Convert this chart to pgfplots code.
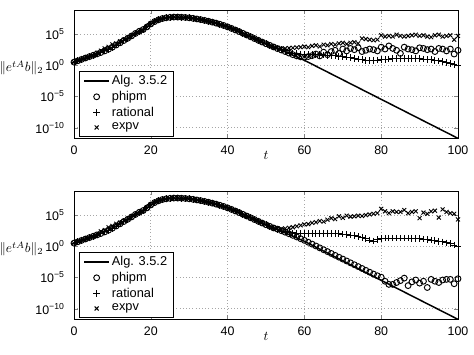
\documentclass[border=0pt]{standalone}
\usepackage{pgfplots}
\pgfplotsset{compat=1.18}
\usepackage{pgfplotstable}
\usepackage{fontspec}
\setmainfont{Liberation Sans}

% log10 of ||e^{tA}b||_2
\pgfplotstableread{
t alg p1 r1 e1 p2 r2 e2
0 0.50 0.50 0.50 0.50 0.50 0.50 0.50
1 0.72 0.72 0.72 0.72 0.72 0.72 0.72
2 0.95 0.95 0.95 0.95 0.95 0.95 0.95
3 1.17 1.17 1.17 1.17 1.17 1.17 1.17
4 1.38 1.38 1.38 1.38 1.38 1.38 1.38
5 1.60 1.60 1.60 1.60 1.60 1.60 1.60
6 1.82 1.82 1.82 2.00 1.82 1.82 1.95
7 2.05 2.05 2.05 2.35 2.05 2.05 2.40
8 2.30 2.30 2.30 2.70 2.30 2.30 2.60
9 2.58 2.58 2.58 2.95 2.58 2.58 3.05
10 2.90 2.90 2.90 3.35 2.90 2.90 3.25
11 3.25 3.25 3.25 3.50 3.25 3.25 3.60
12 3.60 3.60 3.60 3.85 3.60 3.60 3.80
13 3.97 3.97 3.97 4.10 3.97 3.97 4.05
14 4.33 4.33 4.33 4.33 4.33 4.33 4.33
15 4.70 4.70 4.70 4.70 4.70 4.70 4.70
16 5.10 5.10 5.10 5.10 5.10 5.10 5.10
17 5.45 5.45 5.45 5.45 5.45 5.45 5.45
18 5.72 5.72 5.72 5.72 5.72 5.72 5.72
19 6.15 6.15 6.15 6.15 6.15 6.15 6.15
20 6.62 6.62 6.62 6.62 6.62 6.62 6.62
21 7.00 7.00 7.00 7.00 7.00 7.00 7.00
22 7.28 7.28 7.28 7.28 7.28 7.28 7.28
23 7.48 7.48 7.48 7.48 7.48 7.48 7.48
24 7.60 7.60 7.60 7.60 7.60 7.60 7.60
25 7.68 7.68 7.68 7.68 7.68 7.68 7.68
26 7.72 7.72 7.72 7.72 7.72 7.72 7.72
27 7.72 7.72 7.72 7.72 7.72 7.72 7.72
28 7.70 7.70 7.70 7.70 7.70 7.70 7.70
29 7.66 7.66 7.66 7.66 7.66 7.66 7.66
30 7.60 7.60 7.60 7.60 7.60 7.60 7.60
31 7.52 7.52 7.52 7.52 7.52 7.52 7.52
32 7.42 7.42 7.42 7.42 7.42 7.42 7.42
33 7.31 7.31 7.31 7.31 7.31 7.31 7.31
34 7.19 7.19 7.19 7.19 7.19 7.19 7.19
35 7.06 7.06 7.06 7.06 7.06 7.06 7.06
36 6.91 6.91 6.91 6.91 6.91 6.91 6.91
37 6.75 6.75 6.75 6.75 6.75 6.75 6.75
38 6.57 6.57 6.57 6.57 6.57 6.57 6.57
39 6.37 6.37 6.37 6.37 6.37 6.37 6.37
40 6.15 6.15 6.15 6.15 6.15 6.15 6.15
41 5.91 5.91 5.91 5.91 5.91 5.91 5.91
42 5.66 5.66 5.66 5.66 5.66 5.66 5.66
43 5.40 5.40 5.40 5.40 5.40 5.40 5.40
44 5.12 5.12 5.12 5.12 5.12 5.12 5.12
45 4.84 4.84 4.84 4.84 4.84 4.84 4.84
46 4.56 4.56 4.56 4.56 4.56 4.56 4.56
47 4.28 4.28 4.28 4.28 4.28 4.28 4.28
48 4.00 4.00 4.00 4.00 4.00 4.00 4.00
49 3.72 3.72 3.72 3.72 3.72 3.72 3.72
50 3.45 3.45 3.45 3.45 3.45 3.45 3.45
51 3.19 3.19 3.19 3.19 3.19 3.19 3.19
52 2.93 2.93 2.93 2.93 2.93 2.93 2.93
53 2.67 2.67 2.70 2.80 2.75 2.65 2.85
54 2.41 2.45 2.50 2.70 2.50 2.45 2.80
55 2.15 2.20 2.30 2.70 2.25 2.30 2.85
56 1.88 1.95 2.10 2.75 2.00 2.20 2.95
57 1.61 1.70 1.95 2.80 1.75 2.15 3.05
58 1.34 1.50 1.85 2.85 1.50 2.10 3.20
59 1.07 1.35 1.80 2.90 1.22 2.10 3.35
60 0.80 1.30 1.75 3.00 0.95 2.10 3.50
61 0.49 1.40 1.75 2.90 0.65 2.10 3.55
62 0.18 1.55 1.75 3.10 0.35 2.10 3.75
63 -0.14 1.80 1.70 3.20 0.05 2.10 3.85
64 -0.45 1.50 1.70 3.00 -0.25 2.10 4.05
65 -0.76 2.10 1.65 3.30 -0.55 2.10 3.95
66 -1.08 1.70 1.60 3.20 -0.85 2.10 4.25
67 -1.39 2.20 1.55 3.40 -1.15 2.10 4.50
68 -1.70 2.40 1.50 3.30 -1.45 2.05 4.35
69 -2.01 1.90 1.45 3.50 -1.75 2.00 4.80
70 -2.33 2.60 1.40 3.60 -2.05 1.95 4.55
71 -2.64 2.30 1.30 3.40 -2.35 1.90 4.90
72 -2.95 2.70 1.20 3.60 -2.65 1.80 4.75
73 -3.26 2.50 1.10 3.70 -2.95 1.70 4.80
74 -3.58 2.80 1.00 3.50 -3.25 1.60 4.90
75 -3.89 2.20 0.90 4.30 -3.55 1.45 4.85
76 -4.20 2.40 0.80 4.20 -3.85 1.25 5.00
77 -4.51 2.60 0.75 4.10 -4.15 1.00 5.10
78 -4.83 2.50 0.80 4.00 -4.45 0.85 5.20
79 -5.14 2.30 0.85 4.10 -4.72 1.10 5.30
80 -5.45 2.90 0.90 4.80 -4.95 1.20 6.00
81 -5.76 2.60 0.95 4.60 -5.60 1.30 5.60
82 -6.08 3.10 1.00 4.70 -6.10 1.30 5.30
83 -6.39 2.70 1.05 4.60 -6.10 1.30 5.60
84 -6.70 2.40 1.10 4.90 -5.80 1.30 5.50
85 -7.01 1.90 1.10 4.70 -5.50 1.30 5.50
86 -7.33 2.90 1.10 4.60 -5.10 1.30 5.80
87 -7.64 2.60 1.10 4.70 -6.30 1.30 5.30
88 -7.95 2.50 1.10 4.80 -5.70 1.25 5.50
89 -8.26 2.30 1.10 4.90 -5.40 1.20 5.60
90 -8.58 2.80 1.05 4.70 -5.90 1.20 4.50
91 -8.89 2.70 1.00 4.80 -5.60 1.15 5.40
92 -9.20 2.50 0.95 4.60 -6.60 1.10 5.20
93 -9.51 2.60 0.90 4.50 -5.30 1.00 5.60
94 -9.83 2.20 0.80 4.80 -5.60 0.90 5.70
95 -10.14 2.70 0.70 4.90 -5.80 0.80 4.60
96 -10.45 2.60 0.60 4.60 -5.40 0.70 5.90
97 -10.76 2.30 0.45 4.70 -5.30 0.55 5.50
98 -11.08 2.60 0.30 4.80 -5.30 0.40 5.30
99 -11.39 1.80 0.15 4.10 -6.00 0.20 5.20
100 -11.70 2.40 0.00 4.70 -5.20 0.00 4.30
}\data

\pgfplotsset{
  myax/.style={
    scale only axis, width=288pt, height=96pt,
    xmin=0, xmax=100, ymin=-11.7, ymax=8.8,
    xtick={0,20,...,100},
    ytick={-10,-5,0,5},
    yticklabels={10\textsuperscript{−10},10\textsuperscript{−5},10\textsuperscript{0},10\textsuperscript{5}},
    tick pos=both, tick align=inside, major tick length=3pt,
    minor tick num=0,
    grid=major,
    major grid style={dotted, gray!70, line width=0.5pt},
    axis line style={line width=0.6pt},
    /pgf/number format/assume math mode=true,
    tick label style={font=\fontsize{9.3}{10}\selectfont},
    xticklabel style={yshift=-2pt},
    yticklabel style={xshift=-3.5pt},
    xlabel={$t$},
    ylabel={$\|e^{tA}b\|_2$},
    every axis x label/.style={at={(axis description cs:0.5,0)}, anchor=center, yshift=-13pt},
    every axis y label/.style={at={(axis description cs:0,0.55)}, anchor=east, xshift=-19.5pt},
    legend image code/.code={\draw[mark repeat=2,mark phase=2,#1] plot coordinates {(0cm,0cm) (0.33cm,0cm) (0.66cm,0cm)};},
    legend cell align=left,
    legend style={at={(0,0)}, anchor=south west, xshift=3.75pt, yshift=1.5pt,
      draw=black, line width=0.6pt, fill=white,
      font=\fontsize{9.6}{10}\selectfont, inner xsep=3pt, inner ysep=1.5pt, row sep=0.5pt,
      nodes={inner sep=1.5pt}},
  },
  algsty/.style={black, line width=1.1pt, no markers},
  psty/.style={black, only marks, mark=o, mark size=2.2pt, line width=0.7pt},
  rsty/.style={black, only marks, mark=+, mark size=2.5pt, line width=0.7pt},
  esty/.style={black, only marks, mark=x, mark size=2.1pt, line width=0.7pt},
}

\begin{document}
\begin{tikzpicture}
\begin{axis}[myax, at={(0,135.75pt)}, anchor=south west]
\addplot[algsty] table[x=t,y=alg]{\data};
\addplot[psty] table[x=t,y=p1]{\data};
\addplot[rsty] table[x=t,y=r1]{\data};
\addplot[esty] table[x=t,y=e1]{\data};
\legend{Alg. 3.5.2,phipm,rational,expv}
\end{axis}
\begin{axis}[myax, at={(0,0)}, anchor=south west]
\addplot[algsty] table[x=t,y=alg]{\data};
\addplot[psty] table[x=t,y=p2]{\data};
\addplot[rsty] table[x=t,y=r2]{\data};
\addplot[esty] table[x=t,y=e2]{\data};
\legend{Alg. 3.5.2,phipm,rational,expv}
\end{axis}
\pgfresetboundingbox
\path[use as bounding box] (-55.5pt,-26pt) rectangle (300pt,239.5pt);
\end{tikzpicture}
\end{document}
